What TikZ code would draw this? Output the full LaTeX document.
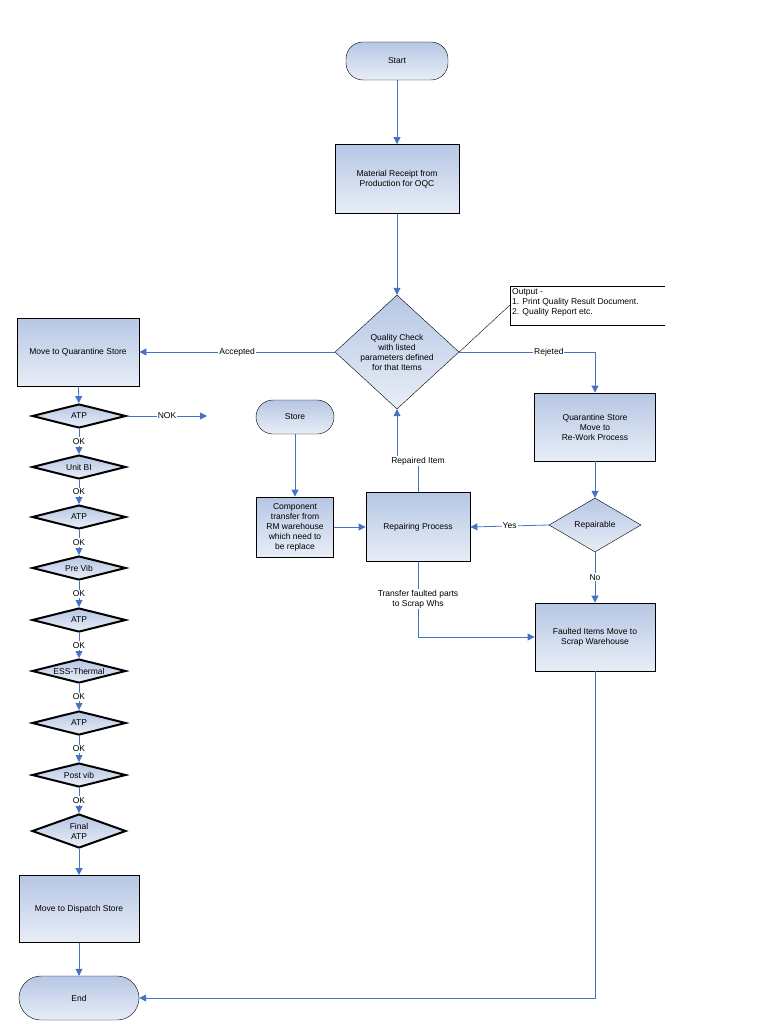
\documentclass[tikz,border=0pt]{standalone}
\usepackage{fontspec}
\setmainfont{Liberation Sans}
\usetikzlibrary{arrows.meta,shapes.geometric}
\definecolor{ln}{RGB}{68,114,196}
\definecolor{fa}{RGB}{182,198,228}
\definecolor{fb}{RGB}{232,238,247}
\tikzset{
  x=1pt, y=-1pt,
  every node/.style={font=\fontsize{8.5}{10}\selectfont},
  box/.style={draw=black, thick, top color=fa, bottom color=fb, minimum width=#1, align=center, inner sep=1pt},
  rbox/.style={draw=black, top color=fa, bottom color=fb, rounded corners=17pt, align=center},
  dia/.style={diamond, aspect=#1, draw=black, top color=fa, bottom color=fb, align=center, inner sep=0pt},
  tst/.style={dia=3.9, line width=2pt, minimum height=24pt, minimum width=94pt},
  ar/.style={draw=ln, thick, -{Triangle[width=7pt,length=7pt]}},
  lb/.style={fill=white, inner sep=1pt},
}
\begin{document}
\begin{tikzpicture}
\useasboundingbox (0,0) rectangle (768,1024);
\node[rbox, minimum width=102pt, minimum height=38pt] (start) at (397,61) {Start};
\node[box=124pt, minimum height=69pt] (mat) at (397,179) {Material Receipt from\\Production for OQC};
\node[dia=1.09, minimum width=124pt, minimum height=114pt] (qc) at (397,352) {Quality Check\\with listed\\parameters defined\\for that Items};
\node[box=122pt, minimum height=68pt] (qs) at (78,352) {Move to Quarantine Store};
\node[box=121pt, minimum height=68pt] (rw) at (595,427) {Quarantine Store\\Move to\\Re-Work Process};
\node[dia=1.7, minimum width=92pt, minimum height=54pt] (rep) at (595,525) {Repairable};
\node[box=120pt, minimum height=68pt] (flt) at (595,637) {Faulted Items Move to\\Scrap Warehouse};
\node[box=104pt, minimum height=69pt] (rpr) at (418,527) {Repairing Process};
\node[rbox, minimum width=78pt, minimum height=34pt] (st) at (295,417) {Store};
\node[box=77pt, minimum height=60pt] (cmp) at (295,527) {Component\\transfer from\\RM warehouse\\which need to\\be replace};
\node[box=120pt, minimum height=67pt] (dsp) at (79,909) {Move to Dispatch Store};
\node[rbox, minimum width=120pt, minimum height=44pt, rounded corners=22pt] (end) at (79,998) {End};

% annotation
\node[anchor=north west, align=left, inner sep=2pt] (out) at (510,286) {Output -\\1. Print Quality Result Document.\\2. Quality Report etc.};
\draw (665,286) -- (510,286) -- (510,325) -- (665,325);
\draw (qc.east) -- (510,305);

% tests
\foreach \n/\t/\y in {t1/ATP/416, t2/Unit BI/467, t3/ATP/517, t4/Pre Vib/568, t5/ATP/620, t6/ESS-Thermal/671, t7/ATP/723, t8/Post vib/775}
  \node[tst] (\n) at (79,\y) {\t};
\node[tst, minimum height=34pt] (t9) at (79,831) {Final\\ATP};
\foreach \n in {t1,...,t9}{
  \coordinate (e\n) at ([xshift=80pt]\n.east);
  \draw[ar] (\n.east) -- node[lb]{NOK} (e\n);
}
\draw[ar] (qs) -- (t1);
\foreach \a/\b in {t1/t2, t2/t3, t3/t4, t4/t5, t5/t6, t6/t7, t7/t8, t8/t9}
  \draw[ar] (\a) -- node[lb]{OK} (\b);
\draw[ar] (t9) -- (dsp);
\draw[ar] (dsp) -- (end);

% main flow
\draw[ar] (start) -- (mat);
\draw[ar] (mat) -- (qc);
\draw[ar] (qc.west) -- node[lb, pos=0.5]{Accepted} (qs.east);
\draw[ar] (qc.east) -- node[lb, pos=0.66]{Rejeted} (595,352) -- (rw.north);
\draw[ar] (rw) -- (rep);
\draw[ar] (rep.west) -- node[lb]{Yes} (rpr.east);
\draw[ar] (rep) -- node[lb]{No} (flt);
\draw[ar] (st) -- (cmp);
\draw[ar] (cmp) -- (rpr);
\draw[ar] (rpr.north) -- (418,461) -- node[lb, pos=0]{Repaired Item} (397,461) -- (qc.south);
\draw[ar] (rpr.south) -- node[lb, pos=0.5, align=center]{Transfer faulted parts\\to Scrap Whs} (418,637) -- (flt.west);
\draw[ar] (flt.south) -- (595,998) -- (end.east);
\end{tikzpicture}
\end{document}
